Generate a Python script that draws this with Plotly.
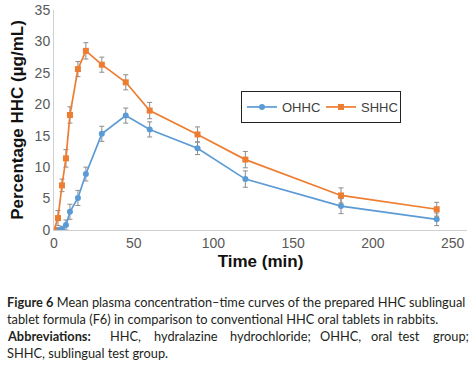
import plotly.graph_objects as go

time = [0, 2.5, 5, 7.5, 10, 15, 20, 30, 45, 60, 90, 120, 180, 240]
ohhc = [0, 0, 0.1, 0.8, 2.9, 5.1, 8.9, 15.3, 18.2, 16.0, 13.0, 8.1, 3.8, 1.7]
ohhc_err = [0.2, 0.3, 0.5, 0.8, 1.2, 1.2, 1.1, 1.2, 1.2, 1.2, 1.0, 1.3, 1.2, 1.0]
shhc = [0, 1.9, 7.1, 11.4, 18.3, 25.6, 28.5, 26.3, 23.5, 19.0, 15.2, 11.2, 5.5, 3.3]
shhc_err = [0.3, 1.2, 1.0, 1.4, 1.3, 1.2, 1.3, 1.2, 1.2, 1.3, 1.2, 1.3, 1.2, 1.1]

x_ticks = [0, 50, 100, 150, 200, 250]
y_ticks = [0, 5, 10, 15, 20, 25, 30, 35]

W, H = 474, 366
L, R, T, B = 54, 7, 10, 136
PW, PH = W - L - R, H - T - B


def px(x):
    return (x - L) / PW


def py(y):
    return (H - B - y) / PH


fig = go.Figure()
err_style = dict(type="data", thickness=1, width=2.5, color="#8c8c8c")
fig.add_trace(go.Scatter(
    x=time, y=ohhc, name="OHHC", mode="lines+markers",
    line=dict(color="#5B9BD5", width=1.7),
    marker=dict(symbol="circle", size=6, color="#5B9BD5"),
    error_y=dict(array=ohhc_err, **err_style),
))
fig.add_trace(go.Scatter(
    x=time, y=shhc, name="SHHC", mode="lines+markers",
    line=dict(color="#ED7D31", width=1.7),
    marker=dict(symbol="square", size=6, color="#ED7D31"),
    error_y=dict(array=shhc_err, **err_style),
))

fig.update_layout(
    width=W, height=H,
    margin=dict(l=L, r=R, t=T, b=B, autoexpand=False),
    paper_bgcolor="white", plot_bgcolor="white",
    font=dict(family="Liberation Sans, Arial, sans-serif", color="#595959", size=14),
    showlegend=True,
    legend=dict(
        x=px(241), y=py(91), xanchor="left", yanchor="top",
        orientation="h", bordercolor="#222", borderwidth=1,
        font=dict(size=13, color="#404040"), bgcolor="white",
        entrywidth=34, entrywidthmode="pixels", tracegroupgap=0,
    ),
)
fig.update_xaxes(
    range=[0, 259], tickvals=x_ticks, showgrid=False, zeroline=False,
    showline=True, linecolor="#d0d0d0", linewidth=1, ticks="", automargin=False,
    tickfont=dict(size=14, color="#595959"),
    title=dict(text="<b>Time (min)</b>", font=dict(size=17, color="#111"), standoff=5),
)
fig.update_yaxes(
    range=[0, 35], tickvals=y_ticks, showgrid=False, zeroline=False,
    showline=True, linecolor="#d0d0d0", linewidth=1, ticks="", automargin=False,
    tickfont=dict(size=14, color="#595959"),
    title=dict(text="<b>Percentage HHC (µg/mL)</b>", font=dict(size=17, color="#111"), standoff=6),
)

cap_font = dict(family="Lato, Open Sans, sans-serif", size=12.8, color="#231f20")
lines = [
    (302, 5, "<b>Figure 6</b> Mean plasma concentration–time curves of the prepared HHC sublingual"),
    (318.5, 5, "tablet formula (F6) in comparison to conventional HHC oral tablets in rabbits."),
    (353, 5, "SHHC, sublingual test group."),
]
for yy, xx, txt in lines:
    fig.add_annotation(x=px(xx), y=py(yy), xref="paper", yref="paper", text=txt,
                       showarrow=False, xanchor="left", yanchor="middle", font=cap_font)

words3 = [(5, "<b>Abbreviations:</b>"), (108, "HHC,"), (152, "hydralazine"), (228, "hydrochloride;"),
          (318, "OHHC,"), (369, "oral"), (396, "test"), (431, "group;")]
for xx, txt in words3:
    fig.add_annotation(x=px(xx), y=py(336), xref="paper", yref="paper", text=txt,
                       showarrow=False, xanchor="left", yanchor="middle", font=cap_font)

fig.write_html("out.html", config={"displayModeBar": False},
               post_script="document.body.style.margin='0';")
